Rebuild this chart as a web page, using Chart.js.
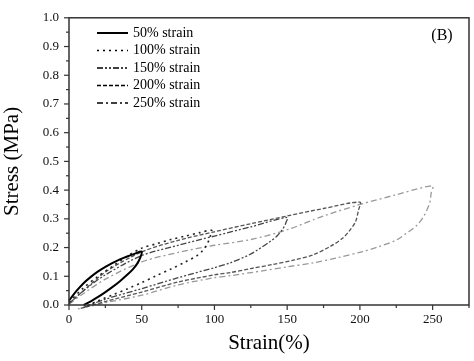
<!DOCTYPE html>
<html>
<head>
<meta charset="utf-8">
<script src="https://cdn.jsdelivr.net/npm/chart.js@4"></script>
<style>
  body { margin: 0; background: #fff; }
</style>
</head>
<body>
<canvas id="chart" width="474" height="361"></canvas>
<script>
// strain (%) / stress (MPa), loading then unloading
const strain50 = [0, 5, 10, 15, 20, 25, 30, 35, 40, 45, 50, 49, 47, 44, 40, 35, 30, 25, 20, 15, 10]
const stress50 = [0.015, 0.048, 0.076, 0.098, 0.117, 0.133, 0.147, 0.159, 0.169, 0.178, 0.186, 0.165, 0.145, 0.125, 0.105, 0.083, 0.063, 0.045, 0.028, 0.013, 0.0]

const strain100 = [0, 10, 20, 30, 40, 50, 60, 70, 80, 90, 98, 97, 95, 92, 88, 80, 70, 60, 50, 40, 30, 20, 12]
const stress100 = [0.01, 0.06, 0.1, 0.135, 0.17, 0.198, 0.213, 0.228, 0.24, 0.252, 0.26, 0.238, 0.212, 0.19, 0.172, 0.15, 0.125, 0.102, 0.078, 0.056, 0.035, 0.015, -0.005]

const strain150 = [0, 10, 25, 50, 75, 100, 125, 150, 149, 147, 143, 138, 130, 124, 111, 100, 75, 50, 25, 10]
const stress150 = [0.005, 0.05, 0.105, 0.172, 0.208, 0.24, 0.272, 0.305, 0.285, 0.265, 0.24, 0.22, 0.193, 0.175, 0.147, 0.13, 0.095, 0.057, 0.02, -0.008]

const strain200 = [0, 10, 25, 50, 75, 100, 125, 150, 175, 200, 199, 197, 193, 188, 180, 168, 155, 140, 125, 111, 100, 75, 50, 25, 8]
const stress200 = [0.005, 0.05, 0.115, 0.185, 0.225, 0.255, 0.283, 0.31, 0.336, 0.358, 0.33, 0.29, 0.26, 0.232, 0.205, 0.175, 0.157, 0.141, 0.127, 0.113, 0.105, 0.08, 0.045, 0.012, -0.012]

const strain250 = [0, 10, 25, 50, 75, 100, 125, 150, 175, 200, 225, 250, 249, 248, 244, 239, 232, 225, 213, 202, 185, 168, 150, 133, 111, 100, 75, 50, 25, 5]
const stress250 = [0.003, 0.04, 0.09, 0.15, 0.183, 0.208, 0.228, 0.262, 0.31, 0.35, 0.384, 0.415, 0.39, 0.356, 0.31, 0.277, 0.25, 0.226, 0.203, 0.186, 0.165, 0.147, 0.133, 0.119, 0.102, 0.095, 0.07, 0.034, 0.008, -0.015]

const seriesLabels = ['50% strain', '100% strain', '150% strain', '200% strain', '250% strain']
const xTicks = [0, 50, 100, 150, 200, 250]
const yTicks = [0, 0.1, 0.2, 0.3, 0.4, 0.5, 0.6, 0.7, 0.8, 0.9, 1.0]

const serif = 'Liberation Serif'

function pts(xs, ys) {
  return xs.map((x, i) => ({ x: x, y: ys[i] }))
}

const styles = [
  { color: '#000', width: 2, dash: [] },
  { color: '#222', width: 1.6, dash: [2, 4] },
  { color: '#444', width: 1.3, dash: [6, 2, 2, 2, 2, 2] },
  { color: '#555', width: 1.3, dash: [4, 2] },
  { color: '#999', width: 1.3, dash: [6, 3, 2, 3] },
]

const curves = [
  pts(strain50, stress50),
  pts(strain100, stress100),
  pts(strain150, stress150),
  pts(strain200, stress200),
  pts(strain250, stress250),
]

// ticks, frame, legend and panel label
const decor = {
  id: 'decor',
  afterDraw(chart) {
    const ctx = chart.ctx
    const a = chart.chartArea
    const xs = chart.scales.x
    const ys = chart.scales.y
    ctx.save()
    ctx.strokeStyle = '#333'
    ctx.lineWidth = 1.2
    for (let v = 0; v <= 275; v += 25) {
      const px = xs.getPixelForValue(v)
      const len = v % 50 === 0 ? 5 : 3
      ctx.beginPath()
      ctx.moveTo(px, a.bottom)
      ctx.lineTo(px, a.bottom + len)
      ctx.stroke()
    }
    for (let i = 0; i <= 20; i++) {
      const py = ys.getPixelForValue(i * 0.05)
      const len = i % 2 === 0 ? 5 : 3
      ctx.beginPath()
      ctx.moveTo(a.left, py)
      ctx.lineTo(a.left - len, py)
      ctx.stroke()
    }
    ctx.lineWidth = 1.5
    ctx.strokeRect(a.left, a.top, a.right - a.left, a.bottom - a.top)

    // legend
    ctx.font = '14px "' + serif + '"'
    ctx.textBaseline = 'middle'
    ctx.fillStyle = '#000'
    seriesLabels.forEach((label, i) => {
      const y = 33 + i * 17.5
      ctx.beginPath()
      ctx.setLineDash(styles[i].dash)
      ctx.lineWidth = i === 0 ? 2 : 1.4
      ctx.strokeStyle = '#000'
      ctx.moveTo(97, y)
      ctx.lineTo(128, y)
      ctx.stroke()
      ctx.setLineDash([])
      ctx.fillText(label, 133, y)
    })

    ctx.font = '16px "' + serif + '"'
    ctx.textAlign = 'center'
    ctx.fillText('(B)', 442, 36)
    ctx.restore()
  }
}

new Chart(document.getElementById('chart'), {
  type: 'scatter',
  data: {
    datasets: curves.map((data, i) => ({
      label: seriesLabels[i],
      data: data,
      showLine: true,
      borderColor: styles[i].color,
      borderWidth: styles[i].width,
      borderDash: styles[i].dash,
      pointRadius: 0,
      tension: 0.3,
      fill: false,
      clip: false,
    }))
  },
  options: {
    responsive: false,
    animation: false,
    layout: { padding: { left: 0, top: 10, right: 5, bottom: 0 } },
    plugins: {
      legend: { display: false },
      tooltip: { enabled: false },
    },
    scales: {
      x: {
        type: 'linear',
        min: 0,
        max: 275,
        afterBuildTicks: (scale) => { scale.ticks = xTicks.map(v => ({ value: v })) },
        afterFit: (scale) => { scale.height = 56 },
        grid: { display: false, drawTicks: false },
        border: { display: false },
        ticks: {
          padding: 7,
          maxRotation: 0,
          color: '#111',
          font: { family: serif, size: 13 },
          callback: (v) => String(v),
        },
        title: {
          display: true,
          text: 'Strain(%)',
          color: '#000',
          font: { family: serif, size: 21 },
          padding: { top: 0, bottom: 5 },
        },
      },
      y: {
        type: 'linear',
        min: 0,
        max: 1,
        afterBuildTicks: (scale) => { scale.ticks = yTicks.map(v => ({ value: v })) },
        afterFit: (scale) => { scale.width = 69 },
        grid: { display: false, drawTicks: false },
        border: { display: false },
        ticks: {
          padding: 10,
          color: '#111',
          font: { family: serif, size: 13 },
          callback: (v) => Number(v).toFixed(1),
        },
        title: {
          display: true,
          text: 'Stress (MPa)',
          color: '#000',
          font: { family: serif, size: 21 },
          padding: { top: 0, bottom: 0 },
        },
      },
    },
  },
  plugins: [decor],
})
</script>
</body>
</html>
